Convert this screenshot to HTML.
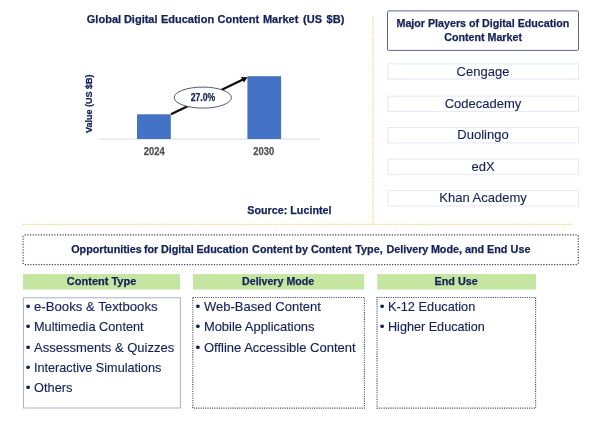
<!DOCTYPE html>
<html><head><meta charset="utf-8">
<style>
html,body{margin:0;padding:0;background:#fff;}
body{width:601px;height:421px;overflow:hidden;}
svg{display:block;}
text{font-family:"Liberation Sans",Arial,sans-serif;fill:#14225a;}
.b{font-weight:bold;stroke:#14225a;stroke-width:0.25px;}
.pl{font-size:13px;text-anchor:middle;stroke:#14225a;stroke-width:0.12px;}
.li{font-size:13.6px;stroke:#14225a;stroke-width:0.15px;}
.hd{font-size:11px;font-weight:bold;text-anchor:middle;stroke:#14225a;stroke-width:0.25px;}
.pbox{fill:#fff;stroke:#e1e9f4;stroke-width:1;}
.dot{fill:none;stroke:#444b68;stroke-width:1.1;stroke-dasharray:1.1 1.17;}
</style></head><body>
<svg width="601" height="421" viewBox="0 0 601 421">
<rect x="0" y="0" width="601" height="421" fill="#fff"/>

<!-- chart -->
<text class="b" y="22.7" font-size="11.03" xml:space="preserve"><tspan x="86.8">Global </tspan><tspan x="123.9">Digital </tspan><tspan x="160.9">Education </tspan><tspan x="217.5">Content </tspan><tspan x="262.9">Market </tspan><tspan x="303.1">(US </tspan><tspan x="326.6">$B)</tspan></text>
<rect x="99" y="138.6" width="221" height="1" fill="#dcdcdc"/>
<rect x="137" y="114.3" width="33.8" height="24.7" fill="#4472c4"/>
<rect x="247.4" y="76.2" width="33.7" height="62.8" fill="#4472c4"/>
<text class="b" x="154.2" y="154.7" font-size="10.4" text-anchor="middle" textLength="20.8" lengthAdjust="spacingAndGlyphs" style="fill:#505050;stroke:#505050">2024</text>
<text class="b" x="263.7" y="154.7" font-size="10.4" text-anchor="middle" textLength="20.8" lengthAdjust="spacingAndGlyphs" style="fill:#505050;stroke:#505050">2030</text>
<text class="b" transform="translate(92.2,103.8) rotate(-90)" font-size="9" text-anchor="middle" stroke="#1b2a63" stroke-width="0.3">Value (US $B)</text>
<line x1="171" y1="114.3" x2="243" y2="79.5" stroke="#0c0c0c" stroke-width="2.2"/>
<polygon points="247.6,77.2 241,76.9 243.9,82.6" fill="#0c0c0c"/>
<ellipse cx="202.8" cy="97.6" rx="28.6" ry="10.5" fill="#fff" stroke="#3d4566" stroke-width="0.9"/>
<text class="b" x="203" y="101.4" font-size="10.6" text-anchor="middle" textLength="24.5" lengthAdjust="spacingAndGlyphs">27.0%</text>
<text class="b" x="247.3" y="214" font-size="10.75">Source: Lucintel</text>

<!-- yellow separators -->
<line x1="373" y1="16" x2="373" y2="225" stroke="#f8d985" stroke-width="1.3" stroke-dasharray="1.4 0.9"/>
<line x1="22.5" y1="224.3" x2="572.5" y2="224.3" stroke="#f8d985" stroke-width="1.2" stroke-dasharray="1.4 0.9"/>

<!-- players -->
<rect x="387.5" y="10.9" width="191" height="39.5" rx="1.2" fill="#fff" stroke="#5c6590" stroke-width="1"/>
<text class="b" x="482.9" y="26.5" font-size="10.7" text-anchor="middle">Major Players of Digital Education</text>
<text class="b" x="483.1" y="40.7" font-size="10.7" text-anchor="middle">Content Market</text>
<rect class="pbox" x="387.9" y="63.9" width="190.6" height="15.3"/>
<rect class="pbox" x="387.9" y="96.1" width="190.6" height="15.3"/>
<rect class="pbox" x="387.9" y="127.6" width="190.6" height="15.3"/>
<rect class="pbox" x="387.9" y="159.1" width="190.6" height="15.3"/>
<rect class="pbox" x="387.9" y="190.6" width="190.6" height="15.3"/>
<text class="pl" x="483" y="76.4">Cengage</text>
<text class="pl" x="483" y="108.1">Codecademy</text>
<text class="pl" x="483" y="139">Duolingo</text>
<text class="pl" x="483" y="170.5">edX</text>
<text class="pl" x="483" y="202.3">Khan Academy</text>

<!-- opportunities -->
<rect x="23.1" y="234.8" width="555.2" height="29.8" rx="1.5" fill="#fff" stroke="#3d4360" stroke-width="1.2" stroke-dasharray="1.2 1.5"/>
<text class="b" y="253.1" font-size="10.79" xml:space="preserve"><tspan x="71.2">Opportunities </tspan><tspan x="143.9">for </tspan><tspan x="160.9">Digital </tspan><tspan x="196.4">Education </tspan><tspan x="252.1">Content </tspan><tspan x="295.3">by </tspan><tspan x="310.9">Content </tspan><tspan x="355.3">Type, </tspan><tspan x="386.4">Delivery </tspan><tspan x="430.9">Mode, </tspan><tspan x="465.0">and </tspan><tspan x="487.0">End </tspan><tspan x="510.6">Use</tspan></text>

<rect x="23" y="274.1" width="157" height="15.4" fill="#c5e6a1"/>
<rect x="193" y="274.1" width="171.2" height="15.4" fill="#c5e6a1"/>
<rect x="377.2" y="274.1" width="158.8" height="15.4" fill="#c5e6a1"/>
<text class="hd" x="101.6" y="285.1">Content Type</text>
<text class="hd" x="278.1" y="285.1" textLength="72.1" lengthAdjust="spacingAndGlyphs">Delivery Mode</text>
<text class="hd" x="456.2" y="285.1" textLength="43.3" lengthAdjust="spacingAndGlyphs">End Use</text>

<rect x="23.4" y="297.8" width="157" height="110.2" fill="#fff" stroke="#a9b0c8" stroke-width="1"/>
<rect class="dot" x="192.8" y="297.5" width="171.6" height="110.6"/>
<rect class="dot" x="377" y="297.5" width="158.6" height="110.6"/>

<text class="li" x="25.7" y="310.8">•</text><text class="li" x="34.0" y="310.8" textLength="123.64" lengthAdjust="spacingAndGlyphs">e-Books &amp; Textbooks</text>
<text class="li" x="25.7" y="331.3">•</text><text class="li" x="34.0" y="331.3" textLength="109.62" lengthAdjust="spacingAndGlyphs">Multimedia Content</text>
<text class="li" x="25.7" y="351.6">•</text><text class="li" x="34.0" y="351.6" textLength="140.2" lengthAdjust="spacingAndGlyphs">Assessments &amp; Quizzes</text>
<text class="li" x="25.7" y="371.8">•</text><text class="li" x="34.0" y="371.8" textLength="127.26" lengthAdjust="spacingAndGlyphs">Interactive Simulations</text>
<text class="li" x="25.7" y="392">•</text><text class="li" x="34.0" y="392" textLength="38.42" lengthAdjust="spacingAndGlyphs">Others</text>
<text class="li" x="195.6" y="310.8">•</text><text class="li" x="203.9" y="310.8" textLength="117.1" lengthAdjust="spacingAndGlyphs">Web-Based Content</text>
<text class="li" x="195.6" y="331.3">•</text><text class="li" x="203.9" y="331.3" textLength="110.63" lengthAdjust="spacingAndGlyphs">Mobile Applications</text>
<text class="li" x="195.6" y="351.6">•</text><text class="li" x="203.9" y="351.6" textLength="151.71" lengthAdjust="spacingAndGlyphs">Offline Accessible Content</text>
<text class="li" x="379.7" y="310.8">•</text><text class="li" x="388.0" y="310.8" textLength="87.32" lengthAdjust="spacingAndGlyphs">K-12 Education</text>
<text class="li" x="379.7" y="331.3">•</text><text class="li" x="388.0" y="331.3" textLength="96.87" lengthAdjust="spacingAndGlyphs">Higher Education</text>
</svg>
</body></html>
